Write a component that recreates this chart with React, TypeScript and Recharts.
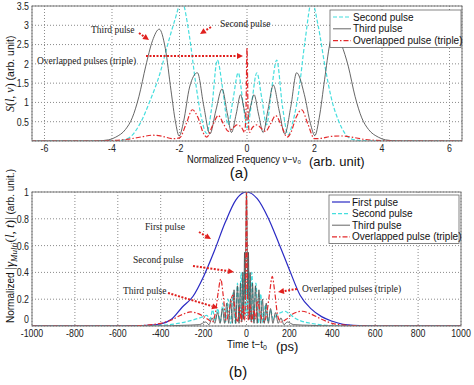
import React from 'react'
import { LineChart, Line, XAxis, YAxis, CartesianGrid } from 'recharts'

// (a) spectra: [normalized frequency, S(l,v)]
const secondPulseSpec: [number, number][] = [
  [-6.4, 0], [-4.2, 0], [-3.8, 0.01], [-3.47, 0.1], [-3.17, 0.45], [-2.87, 1.05], [-2.58, 1.75], [-2.35, 2.5],
  [-2.15, 3.1], [-1.93, 3.62], [-1.72, 2.8], [-1.52, 1.5], [-1.35, 0.6], [-1.2, 0.2], [-1.04, 0.9], [-0.88, 2.1],
  [-0.72, 1.35], [-0.56, 0.42], [-0.41, 1.1], [-0.26, 1.77], [-0.12, 1.0], [0, 0.34], [0.14, 1.0], [0.29, 1.77],
  [0.44, 1.1], [0.58, 0.42], [0.73, 1.35], [0.88, 2.1], [1.05, 0.9], [1.22, 0.16], [1.36, 0.5], [1.52, 1.2],
  [1.72, 2.6], [1.92, 3.62], [2.11, 2.98], [2.31, 1.94], [2.51, 1.07], [2.7, 0.55], [2.9, 0.2], [3.1, 0.05],
  [3.4, 0.01], [4, 0], [6.4, 0],
]
const thirdPulseSpec: [number, number][] = [
  [-6.4, 0], [-4.5, 0], [-4.1, 0.03], [-3.89, 0.1], [-3.6, 0.3], [-3.4, 0.6], [-3.2, 1.16], [-3.0, 1.94],
  [-2.8, 2.6], [-2.6, 2.9], [-2.42, 2.4], [-2.25, 1.3], [-2.12, 0.5], [-2.01, 0.13], [-1.88, 0.5], [-1.7, 1.4],
  [-1.47, 1.77], [-1.28, 0.9], [-1.1, 0.18], [-0.92, 0.8], [-0.74, 1.35], [-0.58, 0.7], [-0.46, 0.22],
  [-0.32, 0.7], [-0.19, 1.2], [-0.08, 0.8], [0, 0.55], [0.08, 0.8], [0.21, 1.2], [0.34, 0.7], [0.48, 0.22],
  [0.62, 0.8], [0.78, 1.45], [0.95, 0.8], [1.12, 0.18], [1.3, 0.9], [1.47, 1.77], [1.7, 1.2], [1.88, 0.45],
  [2.01, 0.14], [2.14, 0.6], [2.3, 1.6], [2.45, 2.5], [2.6, 2.9], [2.8, 2.5], [3.0, 1.94], [3.2, 1.16],
  [3.4, 0.6], [3.6, 0.3], [3.89, 0.1], [4.1, 0.03], [4.5, 0], [6.4, 0],
]
const overlapSpec: [number, number][] = [
  [-6.4, 0], [-4.5, 0], [-4, 0.01], [-3.5, 0.05], [-3.1, 0.11], [-2.8, 0.15], [-2.5, 0.12], [-2.2, 0.06],
  [-2.0, 0.08], [-1.8, 0.45], [-1.62, 0.81], [-1.45, 0.6], [-1.3, 0.22], [-1.19, 0.1], [-1.02, 0.4],
  [-0.85, 0.66], [-0.7, 0.45], [-0.55, 0.25], [-0.42, 0.33], [-0.3, 0.42], [-0.16, 0.35], [-0.07, 0.22],
  [-0.03, 0.8], [0, 2.42], [0.03, 0.8], [0.07, 0.22], [0.16, 0.35], [0.3, 0.42], [0.42, 0.33], [0.55, 0.25],
  [0.7, 0.45], [0.85, 0.66], [1.02, 0.4], [1.19, 0.1], [1.3, 0.22], [1.45, 0.6], [1.62, 0.81], [1.8, 0.45],
  [2.0, 0.06], [2.2, 0.07], [2.5, 0.12], [2.8, 0.13], [3.1, 0.1], [3.5, 0.04], [4, 0.01], [4.5, 0], [6.4, 0],
]

// (b) normalized |gamma| vs time t-t0 (ps)
const firstPulseTime: [number, number][] = [
  [-1000, 0], [-600, 0], [-500, 0.003], [-450, 0.006], [-400, 0.015], [-350, 0.05], [-300, 0.14],
  [-250, 0.22], [-200, 0.37], [-150, 0.56], [-100, 0.77], [-50, 0.94], [0, 1], [50, 0.95], [100, 0.81],
  [150, 0.62], [200, 0.42], [250, 0.23], [300, 0.13], [350, 0.07], [400, 0.035], [450, 0.012],
  [500, 0.004], [600, 0], [1000, 0],
]
const secondPulseTime: [number, number][] = [
  [-1000, 0], [-500, 0], [-400, 0.005], [-350, 0.012], [-300, 0.025], [-250, 0.045], [-210, 0.065],
  [-185, 0.08], [-170, 0.05], [-158, 0.12], [-146, 0.04], [-134, 0.13], [-122, 0.03], [-110, 0.17],
  [-98, 0.03], [-86, 0.2], [-74, 0.02], [-62, 0.25], [-52, 0.02], [-42, 0.32], [-33, 0.03], [-25, 0.4],
  [-17, 0.05], [-10, 0.41], [-4, 0.08], [0, 0.3], [4, 0.08], [10, 0.41], [17, 0.05], [25, 0.4], [33, 0.03],
  [44, 0.32], [55, 0.02], [66, 0.24], [77, 0.02], [88, 0.16], [100, 0.03], [112, 0.12], [125, 0.05],
  [140, 0.08], [160, 0.1], [180, 0.11], [200, 0.09], [225, 0.06], [250, 0.04], [300, 0.02], [350, 0.008],
  [400, 0.003], [500, 0], [1000, 0],
]
const thirdPulseTime: [number, number][] = [
  [-1000, 0], [-400, 0], [-300, 0.005], [-220, 0.01], [-190, 0.03], [-175, 0.01], [-160, 0.06],
  [-148, 0.02], [-135, 0.1], [-123, 0.02], [-112, 0.13], [-102, 0.02], [-92, 0.17], [-83, 0.02],
  [-74, 0.2], [-66, 0.02], [-58, 0.27], [-50, 0.02], [-42, 0.3], [-35, 0.02], [-28, 0.32], [-22, 0.03],
  [-17, 0.4], [-13, 0.05], [-9, 0.55], [-6, 0.2], [-3, 0.7], [0, 1], [3, 0.7], [6, 0.2], [9, 0.55],
  [13, 0.05], [17, 0.4], [22, 0.03], [28, 0.32], [35, 0.02], [42, 0.3], [50, 0.02], [58, 0.27], [66, 0.02],
  [74, 0.2], [83, 0.02], [92, 0.17], [102, 0.02], [112, 0.13], [123, 0.02], [135, 0.1], [148, 0.02],
  [160, 0.06], [175, 0.01], [190, 0.03], [220, 0.01], [300, 0.005], [400, 0], [1000, 0],
]
const overlapTime: [number, number][] = [
  [-1000, 0], [-550, 0], [-500, 0.003], [-450, 0.008], [-400, 0.02], [-350, 0.045], [-300, 0.085],
  [-260, 0.105], [-215, 0.085], [-180, 0.05], [-160, 0.03], [-145, 0.1], [-132, 0.25], [-120, 0.35],
  [-108, 0.22], [-95, 0.04], [-80, 0.12], [-64, 0.23], [-52, 0.1], [-42, 0.03], [-32, 0.14], [-24, 0.03],
  [-16, 0.16], [-9, 0.04], [-4, 0.3], [0, 1], [4, 0.3], [9, 0.04], [16, 0.16], [24, 0.03], [34, 0.12],
  [42, 0.05], [51, 0.19], [66, 0.08], [82, 0.03], [95, 0.1], [108, 0.25], [120, 0.37], [132, 0.25],
  [145, 0.08], [160, 0.03], [185, 0.05], [215, 0.09], [260, 0.11], [300, 0.09], [350, 0.05], [400, 0.02],
  [450, 0.008], [500, 0.003], [550, 0], [1000, 0],
]

const freqTicks = [-6, -4, -2, 0, 2, 4, 6]
const specTicks = [0.5, 1, 1.5, 2, 2.5, 3, 3.5]
const timeTicks = [-1000, -800, -600, -400, -200, 0, 200, 400, 600, 800, 1000]
const gammaTicks = [0, 0.2, 0.4, 0.6, 0.8, 1]

const legendA = ['Second pulse', 'Third pulse', 'Overlapped pulse (triple)']
const legendB = ['First pulse', 'Second pulse', 'Third pulse', 'Overlapped pulse (triple)']

const SANS = '"Liberation Sans", Arial, sans-serif'
const SERIF = '"Liberation Serif", "Times New Roman", serif'
const ARROW = '#e0201e'

const styles: Record<string, { stroke: string; dash?: string; width: number }> = {
  'First pulse': { stroke: '#2a2ac4', width: 1.2 },
  'Second pulse': { stroke: '#45dede', dash: '4 2', width: 1.2 },
  'Third pulse': { stroke: '#4a4a4a', width: 0.85 },
  'Overlapped pulse (triple)': { stroke: '#e3282a', dash: '5 2 1.5 2', width: 1.2 },
}

const rows = (pts: [number, number][]) => pts.map(([x, v]) => ({ x, v }))

const XTick = ({ x, y, payload }: any) => (
  <g transform={`translate(${x},${y})`}>
    <text transform="scale(0.8,1)" textAnchor="middle" dy="0.71em" fontSize={11} fill="#222" fontFamily={SANS}>
      {payload.value}
    </text>
  </g>
)
// the bottom "0" sits a little higher so it clears the first x tick label
const YTick = ({ x, y, payload }: any) => (
  <g transform={`translate(${x},${y})`}>
    <text transform="scale(0.8,1)" textAnchor="end" dy={payload.value === 0 ? '-0.25em' : '0.355em'}
      fontSize={11} fill="#222" fontFamily={SANS}>
      {payload.value}
    </text>
  </g>
)

function series(name: string, pts: [number, number][]) {
  const s = styles[name]
  return (
    <Line
      key={name}
      data={rows(pts)}
      dataKey="v"
      name={name}
      type="monotone"
      stroke={s.stroke}
      strokeWidth={s.width}
      strokeDasharray={s.dash}
      dot={false}
      isAnimationActive={false}
    />
  )
}

function Arrow({ x1, y1, x2, y2 }: { x1: number; y1: number; x2: number; y2: number }) {
  const a = Math.atan2(y2 - y1, x2 - x1)
  const c = Math.cos(a), s = Math.sin(a)
  const bx = x2 - 6 * c, by = y2 - 6 * s
  return (
    <g>
      <line x1={x1} y1={y1} x2={bx} y2={by} stroke={ARROW} strokeWidth={2} strokeDasharray="2 1.5" />
      <polygon points={`${x2},${y2} ${bx - 3 * s},${by + 3 * c} ${bx + 3 * s},${by - 3 * c}`} fill={ARROW} />
    </g>
  )
}

function LegendBox({ x, y, w, names, step }: { x: number; y: number; w: number; names: string[]; step: number }) {
  return (
    <g>
      <rect x={x} y={y} width={w} height={names.length * step + 2} fill="#fff" stroke="#666" strokeWidth={0.8} />
      {names.map((n, i) => {
        const cy = y + 7 + i * step
        const s = styles[n]
        return (
          <g key={n}>
            <line x1={x + 3} x2={x + 21} y1={cy} y2={cy} stroke={s.stroke} strokeWidth={s.width} strokeDasharray={s.dash} />
            <text x={x + 23} y={cy + 3.6} fontSize={10} fontFamily={SANS} fill="#111">{n}</text>
          </g>
        )
      })}
    </g>
  )
}

export default function App() {
  return (
    <div style={{ position: 'absolute', left: 0, top: 0, width: 474, height: 385, background: '#fff' }}>
      <div style={{ position: 'absolute', left: 0, top: 0 }}>
        <LineChart width={474} height={185} margin={{ top: 6, right: 12, bottom: 0, left: 0 }}>
          <CartesianGrid stroke="#8a8a8a" strokeDasharray="1 2" />
          <XAxis dataKey="x" type="number" domain={[-6.37, 6.37]} ticks={freqTicks} allowDataOverflow
            height={44} tickSize={0} tickMargin={3} axisLine={false} tick={<XTick />} interval={0} />
          <YAxis type="number" domain={[0, 3.5]} ticks={specTicks} allowDataOverflow
            width={32} tickSize={0} tickMargin={3} axisLine={false} tick={<YTick />} interval={0} />
          {series('Second pulse', secondPulseSpec)}
          {series('Third pulse', thirdPulseSpec)}
          {series('Overlapped pulse (triple)', overlapSpec)}
        </LineChart>
      </div>
      <div style={{ position: 'absolute', left: 0, top: 185 }}>
        <LineChart width={474} height={200} margin={{ top: 7, right: 13, bottom: 0, left: 0 }}>
          <CartesianGrid stroke="#8a8a8a" strokeDasharray="1 2" />
          <XAxis dataKey="x" type="number" domain={[-1000, 1000]} ticks={timeTicks} allowDataOverflow
            height={59} tickSize={0} tickMargin={3} axisLine={false} tick={<XTick />} interval={0} />
          <YAxis type="number" domain={[0, 1]} ticks={gammaTicks} allowDataOverflow
            width={32} tickSize={0} tickMargin={3} axisLine={false} tick={<YTick />} interval={0} />
          {series('First pulse', firstPulseTime)}
          {series('Second pulse', secondPulseTime)}
          {series('Third pulse', thirdPulseTime)}
          {series('Overlapped pulse (triple)', overlapTime)}
        </LineChart>
      </div>
      <svg width={474} height={385} style={{ position: 'absolute', left: 0, top: 0, pointerEvents: 'none' }}>
        <rect x={32} y={6} width={430} height={135} fill="none" stroke="#777" strokeWidth={1} />
        <rect x={32} y={192} width={429} height={134} fill="none" stroke="#777" strokeWidth={1} />

        {/* panel (a) annotations */}
        <text x={91} y={33} fontSize={9.5} fontFamily={SERIF} fill="#222">Third pulse</text>
        <Arrow x1={139} y1={33} x2={149} y2={40} />
        <text x={220} y={27} fontSize={9.5} fontFamily={SERIF} fill="#222">Second pulse</text>
        <Arrow x1={211} y1={27} x2={200} y2={34} />
        <text x={37} y={64} fontSize={9.5} fontFamily={SERIF} fill="#222">Overlapped pulses (triple)</text>
        <Arrow x1={146} y1={56} x2={243} y2={56} />
        <LegendBox x={330} y={10} w={131} names={legendA} step={11.8} />

        <text transform="translate(14,112) rotate(-90)" fontSize={10.5} fontFamily={SANS} fill="#111">
          <tspan fontFamily={SERIF} fontStyle="italic" fontSize={12}>S</tspan>
          <tspan fontFamily={SERIF} fontSize={12}>(</tspan>
          <tspan fontFamily={SERIF} fontStyle="italic" fontSize={12}>l</tspan>
          <tspan fontFamily={SERIF} fontSize={12}>, </tspan>
          <tspan fontFamily={SERIF} fontStyle="italic" fontSize={12}>ν</tspan>
          <tspan fontFamily={SERIF} fontSize={12}>)</tspan>
          <tspan>{'  (arb. unit)'}</tspan>
        </text>
        <text x={187} y={163} fontSize={10} fontFamily={SANS} fill="#111" textLength={114} lengthAdjust="spacingAndGlyphs">
          Normalized Frequency ν−ν₀
        </text>
        <text x={309} y={166} fontSize={13} fontFamily={SANS} fill="#111">(arb. unit)</text>
        <text x={239} y={178} textAnchor="middle" fontSize={15} fontFamily={SANS} fill="#111">(a)</text>

        {/* panel (b) annotations */}
        <text x={145} y={230} fontSize={9.5} fontFamily={SERIF} fill="#222">First pulse</text>
        <Arrow x1={199} y1={232} x2={211} y2={239} />
        <text x={133} y={263} fontSize={9.5} fontFamily={SERIF} fill="#222">Second pulse</text>
        <Arrow x1={193} y1={266} x2={234} y2={272} />
        <text x={123} y={294} fontSize={9.5} fontFamily={SERIF} fill="#222">Third pulse</text>
        <Arrow x1={168} y1={293} x2={218} y2={308} />
        <text x={302} y={292} fontSize={9.5} fontFamily={SERIF} fill="#222">Overlapped pulses (triple)</text>
        <Arrow x1={297} y1={289} x2={278} y2={292} />
        <LegendBox x={329} y={195} w={130} names={legendB} step={11.6} />

        <text transform="translate(14,323) rotate(-90)" fontSize={10} fontFamily={SANS} fill="#111">
          <tspan>Normalized </tspan>
          <tspan fontFamily={SERIF} fontSize={13}>|</tspan>
          <tspan fontFamily={SERIF} fontStyle="italic" fontSize={13}>γ</tspan>
          <tspan fontFamily={SERIF} fontStyle="italic" fontSize={9} dy={3}>Multi</tspan>
          <tspan fontFamily={SERIF} fontSize={13} dy={-3}>(</tspan>
          <tspan fontFamily={SERIF} fontStyle="italic" fontSize={13}>l</tspan>
          <tspan fontFamily={SERIF} fontSize={13}>, </tspan>
          <tspan fontFamily={SERIF} fontStyle="italic" fontSize={13}>t</tspan>
          <tspan fontFamily={SERIF} fontSize={13}>)|</tspan>
          <tspan>{' (arb. unit.)'}</tspan>
        </text>
        <text x={227} y={348} fontSize={10} fontFamily={SANS} fill="#111">
          Time t−t<tspan fontSize={7} dy={2}>0</tspan>
        </text>
        <text x={276} y={351} fontSize={13} fontFamily={SANS} fill="#111">(ps)</text>
        <text x={238} y={377} textAnchor="middle" fontSize={15} fontFamily={SANS} fill="#111">(b)</text>
      </svg>
    </div>
  )
}
